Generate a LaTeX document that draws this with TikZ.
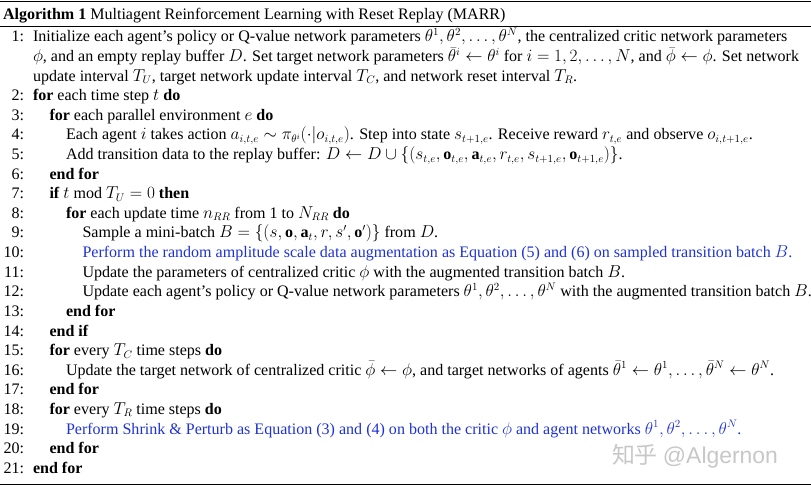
\documentclass[tikz,border=0pt]{standalone}
\usepackage{amsmath,amssymb}
\usepackage{fontspec}
\setmainfont{Liberation Serif}
\newfontfamily\cjk{Noto Sans CJK SC}
\newfontfamily\wmfont{Liberation Sans}
\definecolor{algblue}{RGB}{30,50,210}
\begin{document}
\begin{tikzpicture}[x=1bp,y=-1bp,
  every node/.style={inner sep=0pt,outer sep=0pt,font=\fontsize{16.1}{18}\selectfont},
  lno/.style={anchor=base east},
  ltxt/.style={anchor=base west},
  rulethick/.style={line width=1.1bp},
  rulethin/.style={line width=0.6bp}]
\useasboundingbox (0,0) rectangle (811,487);
\draw[rulethick] (0,1.5) -- (811,1.5);
\draw[rulethin] (0,26.5) -- (811,26.5);
\draw[rulethick] (0,484.5) -- (811,484.5);
\node[ltxt] (hdr) at (3,20) {\textbf{Algorithm 1} Multiagent Reinforcement Learning with Reset Replay (MARR)};
\def\L#1#2#3#4{\node[lno] (n#1) at (24,{42+19.6*#2}) {#1:};\node[ltxt] (t#1) at ({33+16.5*#3},{42+19.6*#2}) {#4};}
\L{1}{0}{0}{Initialize each agent's policy or Q-value network parameters $\theta^1,\theta^2,\ldots,\theta^N$, the centralized critic network parameters}
\node[ltxt] (t1b) at (33,{42+19.6}) {$\phi$, and an empty replay buffer $D$. Set target network parameters $\bar\theta^i\leftarrow\theta^i$ for $i=1,2,\ldots,N$, and $\bar\phi\leftarrow\phi$. Set network};
\node[ltxt] (t1c) at (33,{42+19.6*2}) {update interval $T_U$, target network update interval $T_C$, and network reset interval $T_R$.};
\L{2}{3}{0}{\textbf{for} each time step $t$ \textbf{do}}
\L{3}{4}{1}{\textbf{for} each parallel environment $e$ \textbf{do}}
\L{4}{5}{2}{Each agent $i$ takes action $a_{i,t,e}\sim\pi_{\theta^i}(\cdot|o_{i,t,e})$. Step into state $s_{t+1,e}$. Receive reward $r_{t,e}$ and observe $o_{i,t+1,e}$.}
\L{5}{6}{2}{Add transition data to the replay buffer: $D\leftarrow D\cup\{(s_{t,e},\mathbf{o}_{t,e},\mathbf{a}_{t,e},r_{t,e},s_{t+1,e},\mathbf{o}_{t+1,e})\}$.}
\L{6}{7}{1}{\textbf{end for}}
\L{7}{8}{1}{\textbf{if} $t$ mod $T_U=0$ \textbf{then}}
\L{8}{9}{2}{\textbf{for} each update time $n_{RR}$ from 1 to $N_{RR}$ \textbf{do}}
\L{9}{10}{3}{Sample a mini-batch $B=\{(s,\mathbf{o},\mathbf{a}_t,r,s',\mathbf{o}')\}$ from $D$.}
\L{10}{11}{3}{\color{algblue}Perform the random amplitude scale data augmentation as Equation (5) and (6) on sampled transition batch $B$.}
\L{11}{12}{3}{Update the parameters of centralized critic $\phi$ with the augmented transition batch $B$.}
\L{12}{13}{3}{Update each agent's policy or Q-value network parameters $\theta^1,\theta^2,\ldots,\theta^N$ with the augmented transition batch $B$.}
\L{13}{14}{2}{\textbf{end for}}
\L{14}{15}{1}{\textbf{end if}}
\L{15}{16}{1}{\textbf{for} every $T_C$ time steps \textbf{do}}
\L{16}{17}{2}{Update the target network of centralized critic $\bar\phi\leftarrow\phi$, and target networks of agents $\bar\theta^1\leftarrow\theta^1,\ldots,\bar\theta^N\leftarrow\theta^N$.}
\L{17}{18}{1}{\textbf{end for}}
\L{18}{19}{1}{\textbf{for} every $T_R$ time steps \textbf{do}}
\L{19}{20}{2}{\color{algblue}Perform Shrink \& Perturb as Equation (3) and (4) on both the critic $\phi$ and agent networks $\theta^1,\theta^2,\ldots,\theta^N$.}
\L{20}{21}{1}{\textbf{end for}}
\L{21}{22}{0}{\textbf{end for}}
\node[anchor=base west,text=black!22,font=\fontsize{23}{25}\selectfont] (wm) at (612,463) {\cjk 知乎 \wmfont @Algernon};
\end{tikzpicture}
\end{document}
